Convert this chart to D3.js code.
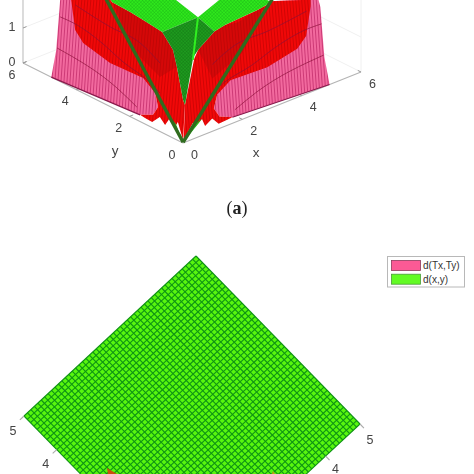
<!DOCTYPE html>
<html><head><meta charset="utf-8">
<script src="https://cdn.jsdelivr.net/npm/d3@7/dist/d3.min.js"></script>
<style>html,body{margin:0;padding:0;background:#fff;overflow:hidden}svg{display:block;filter:blur(.4px)}text{font-family:"Liberation Sans",Arial,sans-serif;fill:#444}</style>
</head><body><svg id="c" width="474" height="474"></svg>
<script>
// ---- data: points are [x, y, z] in axis units (left half; right half mirrors x<->y)
const axisTicks3D = [0, 2, 4, 6];
const zTicks = [0, 1];
const pinkSheet = [[0,4.94,0],[.05,4.81,.81],[.1,4.72,2.25],[.1,4.65,2.5],[.5,3.36,2.72],[.5,1.6,.65],[.5,1.49,.29],[.5,1.68,0],[.25,1.89,0]];
const redOuter = [[.5,4.75,2.3],[.5,4.75,2.11],[.5,4.6,1.31],[.5,4.3,1.05],[.5,3.29,.86],[.5,2.05,.91],[.5,1.6,.65],[.5,1.49,.29],[.5,1.68,0],[.25,1.89,0]];
const redSpikes = [[.23,1.68,0],[.21,1.39,0],[.54,1.47,0],[.34,1.05,0],[.69,1.26,0],[.45,.8,0],[.69,.96,0],[.11,.12,0]];
const redInnerLeft = [[1.36,1.44,.08],[1.41,1.565,.155],[2.13,2.6,.47],[2.45,3.1,.65],[2.39,3.44,1.05],[1.66,3.34,1.68],[1.15,3.26,2.11],[.41,3.11,2.7],[.5,3.36,2.72]];
const redInnerRight = [[1.36,1.44,.08],[3.3,3.25,.05],[3.56,3.39,.17],[3.78,3.03,.75],[3.69,2.53,1.16],[3.46,1.71,1.75],[3.17,.715,2.46],[3.05,.13,2.92],[3.36,.5,2.72]];
const darkRed = [[.41,3.11,2.7],[1.15,3.26,2.11],[1.66,3.34,1.68],[2.39,3.44,1.05],[2.45,3.1,.65],[2.13,2.6,.47],[.6,1.53,1.1],[.6,2.54,1.49]];
const darkRedRight = [[.41,3.11,2.7],[1.15,3.26,2.11],[1.66,3.34,1.68],[2.53,3.69,1.16],[3.03,3.78,.75],[3.39,3.56,.17],[.6,1.53,1.1],[.6,2.54,1.49]];
const greenLeft = [[.3,3.3,3],[4,5,1],[4.3,5,.7],[5,5,0],[2.39,3.44,1.05],[1.66,3.34,1.68],[1.15,3.26,2.11],[.41,3.11,2.7]];
const greenRight = [[5,5,0],[5,4.2,.8],[5,3.5,1.5],[3,0,3],[3.05,.13,2.92],[3.17,.715,2.46],[3.46,1.71,1.75],[3.69,2.53,1.16],[3.78,3.03,.75]];
const darkGreenLeft = [[2.39,3.44,1.05],[5,5,0],[3.41,3.41,0],[1.36,1.44,.08],[1.41,1.565,.155],[2.13,2.6,.47],[2.45,3.1,.65]];
const darkGreenRight = [[5,5,0],[3.78,3.03,.75],[3.56,3.39,.17],[3.41,3.41,0]];
const valleyGlow = [[5,5,0],[3.3,3.3,0]];
const edgeStripe = [[.03,.03,0],[.15,3.2,3.05]];
const originGreen = [[.69,1.26,0],[.58,.91,0],[.03,.05,0]];
const contourA = [[.1,4.83,.84],[.1,2.58,.55],[.1,1.84,.29]];
const contourB = [[.3,4.94,1.62],[.3,4.3,1.63],[.3,3.37,1.47],[.3,2.58,1.23],[.3,1.68,1.06],[.3,1.19,.87]];
const contourC = [[.6,4.71,1.95],[.6,3.4,1.82],[.6,2.28,1.79],[.6,1.53,1.5]];
const frontEdge = [[0,4.94,0],[.25,1.89,0]];
const planTicks = [4, 5];
const planGrid = d3.range(0, 51).map(i => i / 10);
const planPatchLeft = [[.491,2.985],[.554,2.746],[.417,2.877]];
const planPatchRight = [[2.975,.53],[2.96,.453],[2.916,.497]];
const legendLabels = ["d(Tx,Ty)", "d(x,y)"];
const legendColors = ["#fb5a95", "#62fb24"];

const svg = d3.select("#c");
const defs = svg.append("defs");
function hatch(id, bg, fg, angle, gap, w){
  const p = defs.append("pattern").attr("id",id).attr("patternUnits","userSpaceOnUse").attr("width",gap).attr("height",gap).attr("patternTransform",`rotate(${angle})`);
  p.append("rect").attr("width",gap).attr("height",gap).attr("fill",bg);
  p.append("line").attr("x1",.5).attr("x2",.5).attr("y1",0).attr("y2",gap).attr("stroke",fg).attr("stroke-width",w);
}
function mesh(id, bg, fg, gap){
  const p = defs.append("pattern").attr("id",id).attr("patternUnits","userSpaceOnUse").attr("width",gap).attr("height",gap).attr("patternTransform","rotate(45)");
  p.append("rect").attr("width",gap).attr("height",gap).attr("fill",bg);
  p.append("path").attr("d",`M0 0H${gap}M0 0V${gap}`).attr("stroke",fg).attr("stroke-width",.6).attr("fill","none");
}
hatch("pinkL","#f2699e","#cc3a76",4,3,1);
hatch("pinkR","#f2699e","#cc3a76",-4,3,1);
hatch("redL","#f10808","#cf0505",5,3,1);
hatch("redR","#f10808","#cf0505",-5,3,1);
mesh("gBright","#2fe81c","#18ac14",2.4);
mesh("gDark","#1e9a1e","#0f7012",2.4);

// ---- panel (a) projection
const sxX = d3.scaleLinear([0,6],[183,361]), sxY = d3.scaleLinear([0,6],[0,-160]);
const syX = d3.scaleLinear([0,6],[143,72]), syY = d3.scaleLinear([0,6],[0,-80]);
const syZ = d3.scaleLinear([0,1],[0,-35]);
const P = ([x,y,z]) => [sxX(x)+sxY(y), syX(x)+syY(y)+syZ(z)];
const mirror = a => a.map(([x,y,z]) => [y,x,z]);
const line3 = d3.line().x(d=>P(d)[0]).y(d=>P(d)[1]);
const poly = (g,pts,fill,extra={}) => { const s=g.append("path").attr("d",line3(pts)+"Z").attr("fill",fill); for(const k in extra) s.attr(k,extra[k]); return s; };
const path = (g,pts,stroke,w,op=1) => g.append("path").attr("d",line3(pts)).attr("fill","none").attr("stroke",stroke).attr("stroke-width",w).attr("opacity",op);

const a = svg.append("g");
// faint back grid
[[[0,6,0],[6,6,0]],[[6,0,0],[6,6,0]],[[6,0,0],[6,0,3]],[[0,6,1],[6,6,1]],[[6,0,1],[6,6,1]]].forEach(s=>path(a,s,"#f0f0f0",1));
// axes
path(a,[[0,0,0],[6,0,0]],"#b4b4b4",1.2);
path(a,[[0,0,0],[0,6,0]],"#b4b4b4",1.2);
path(a,[[0,6,0],[0,6,3]],"#c4c4c4",1.2);
axisTicks3D.slice(1).forEach(t=>{
  path(a,[[t,0,0],[t,.12,0]],"#999",1);
  path(a,[[0,t,0],[.12,t,0]],"#999",1);
});
zTicks.forEach(t=>{
  path(a,[[0,6,t],[.12,6,t]],"#999",1);
  const [px,py]=P([0,6,t]);
  a.append("text").attr("x",px-11).attr("y",py-2).attr("dy",".36em").attr("text-anchor","middle").attr("font-size",12.5).text(t);
});
// surfaces
poly(a,pinkSheet,"url(#pinkL)");
poly(a,mirror(pinkSheet),"url(#pinkR)");
path(a,frontEdge,"#8a1a4c",1.2);
path(a,mirror(frontEdge),"#8a1a4c",1.2);
poly(a,[...redOuter,...redSpikes,...redInnerLeft],"url(#redL)");
poly(a,[...mirror(redOuter),...mirror(redSpikes),...redInnerRight],"url(#redR)");
poly(a,darkRed,"#a80a0a",{opacity:.38});
poly(a,mirror(darkRedRight),"#a80a0a",{opacity:.38});
[contourA,contourB,contourC].forEach(c=>{
  const l=d3.line().curve(d3.curveMonotoneX).x(d=>P(d)[0]).y(d=>P(d)[1]);
  a.append("path").attr("d",l(c)).attr("fill","none").attr("stroke","#8a1038").attr("stroke-width",.9).attr("opacity",.75);
  const m=mirror(c).slice().sort((p,q)=>P(p)[0]-P(q)[0]);
  a.append("path").attr("d",l(m)).attr("fill","none").attr("stroke","#8a1038").attr("stroke-width",.9).attr("opacity",.75);
});
poly(a,greenLeft,"url(#gBright)");
poly(a,greenRight,"url(#gBright)");
poly(a,darkGreenLeft,"url(#gDark)");
poly(a,darkGreenRight,"url(#gDark)");
path(a,valleyGlow,"#30f020",2);
poly(a,originGreen,"#22c81c");
poly(a,mirror(originGreen),"#22c81c");
path(a,edgeStripe,"#2f6c1e",3.4);
path(a,mirror(edgeStripe),"#2f6c1e",3.4);
// tick labels
axisTicks3D.forEach(t=>{
  const [xx,xy]=P([t,0,0]), [yx,yy]=P([0,t,0]);
  a.append("text").attr("x",xx+11.5).attr("y",xy+11).attr("dy",".36em").attr("text-anchor","middle").attr("font-size",12.5).text(t);
  a.append("text").attr("x",yx-11).attr("y",yy+11).attr("dy",".36em").attr("text-anchor","middle").attr("font-size",12.5).text(t);
});
a.append("text").attr("x",256).attr("y",153).attr("dy",".3em").attr("text-anchor","middle").attr("font-size",13.5).text("x");
a.append("text").attr("x",115).attr("y",151).attr("dy",".3em").attr("text-anchor","middle").attr("font-size",13.5).text("y");

// caption
const cap = svg.append("text").attr("x",237).attr("y",214).attr("text-anchor","middle").attr("font-size",18).style("font-family",'"Liberation Serif",serif').style("fill","#222");
cap.append("tspan").text("(");
cap.append("tspan").attr("font-weight","bold").text("a");
cap.append("tspan").text(")");

// ---- panel (b) top view
const bxX = d3.scaleLinear([0,5],[188,360]), bxY = d3.scaleLinear([0,5],[0,-164]);
const byX = d3.scaleLinear([0,5],[584,424]), byY = d3.scaleLinear([0,5],[0,-168]);
const Q = ([x,y]) => [bxX(x)+bxY(y), byX(x)+byY(y)];
const line2 = d3.line().x(d=>Q(d)[0]).y(d=>Q(d)[1]);
const b = svg.append("g");
b.append("path").attr("d",line2([[0,0],[5,0],[5,5],[0,5]])+"Z").attr("fill","#58f60e");
planGrid.forEach(v=>{
  b.append("path").attr("d",line2([[v,0],[v,5]])).attr("stroke","#0f9414").attr("stroke-width",1.1).attr("fill","none");
  b.append("path").attr("d",line2([[0,v],[5,v]])).attr("stroke","#0f9414").attr("stroke-width",1.1).attr("fill","none");
});
b.append("path").attr("d",line2(planPatchLeft)+"Z").attr("fill","#c8500c");
b.append("path").attr("d",line2(planPatchRight)+"Z").attr("fill","#c8a010");
planTicks.forEach(t=>{
  const [xx,xy]=Q([t,0]), [yx,yy]=Q([0,t]);
  b.append("path").attr("d",line2([[t,0],[t,-.12]])).attr("stroke","#aaa").attr("stroke-width",1.1);
  b.append("path").attr("d",line2([[0,t],[-.12,t]])).attr("stroke","#aaa").attr("stroke-width",1.1);
  b.append("text").attr("x",xx+10).attr("y",Math.min(xy+15,468)).attr("dy",".36em").attr("text-anchor","middle").attr("font-size",12.5).text(t);
  b.append("text").attr("x",yx-11).attr("y",yy+14).attr("dy",".36em").attr("text-anchor","middle").attr("font-size",12.5).text(t);
});

// legend
const lg = svg.append("g").attr("transform","translate(387,256)");
lg.append("rect").attr("x",.5).attr("y",.5).attr("width",77).attr("height",30.5).attr("fill","#fff").attr("stroke","#b8b8b8");
legendLabels.forEach((t,i)=>{
  lg.append("rect").attr("x",4.5).attr("y",4.5+i*13.7).attr("width",29).attr("height",10).attr("fill",legendColors[i]).attr("stroke",i?"#4a9a3a":"#8a3a5a").attr("stroke-width",.8);
  lg.append("text").attr("x",36).attr("y",9.5+i*13.7).attr("dy",".35em").attr("font-size",10).style("fill","#333").text(t);
});
</script></body></html>
